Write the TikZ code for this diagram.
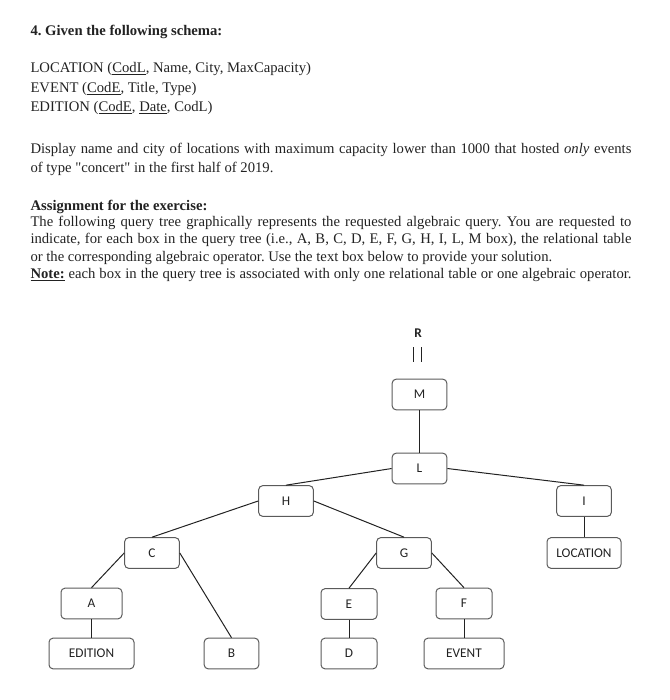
\documentclass[tikz,border=0pt]{standalone}
\usepackage{fontspec}
\setmainfont{Liberation Serif}
\newfontfamily\boxfont{Carlito}
\definecolor{inkgray}{RGB}{34,34,34}
\definecolor{boxgray}{RGB}{90,90,90}
\newcommand{\jline}[1]{\makebox[450.75pt][s]{#1}}
\frenchspacing

\tikzset{every picture/.style={line width=0.75pt}}
\tikzset{
  qbox/.style={draw=boxgray, rounded corners=3pt, minimum width=41pt, minimum height=23pt,
    inner sep=0.75pt, font=\boxfont\fontsize{10}{12}\selectfont, text=inkgray},
  txt/.style={anchor=base west, inner sep=0pt, text=inkgray, font=\fontsize{11}{13}\selectfont},
  link/.style={draw=inkgray}
}

\begin{document}
\begin{tikzpicture}[x=0.75pt,y=0.75pt,yscale=-1,xscale=1]
\useasboundingbox (0,0) rectangle (670,700);

% Text Node
\node [txt] (head) at (30,35) {\textbf{4. Given the following schema:}};
% Text Node
\node [txt] (sch1) at (30,72) {LOCATION (\underline{CodL}, Name, City, MaxCapacity)};
% Text Node
\node [txt] (sch2) at (30,92) {EVENT (\underline{CodE}, Title, Type)};
% Text Node
\node [txt] (sch3) at (30,111.5) {EDITION (\underline{CodE}, \underline{Date}, CodL)};
% Text Node
\node [txt] (req1) at (30,153) {\jline{Display name and city of locations with maximum capacity lower than 1000 that hosted \textit{only} events}};
% Text Node
\node [txt] (req2) at (30,172) {of type \textquotedbl concert\textquotedbl{} in the first half of 2019.};
% Text Node
\node [txt] (asg) at (30,210) {\textbf{Assignment for the exercise:}};
% Text Node
\node [txt] (asg1) at (30,226) {\jline{The following query tree graphically represents the requested algebraic query. You are requested to}};
% Text Node
\node [txt] (asg2) at (30,243.5) {\jline{indicate, for each box in the query tree (i.e., A, B, C, D, E, F, G, H, I, L, M box), the relational table}};
% Text Node
\node [txt] (asg3) at (30,261) {or the corresponding algebraic operator. Use the text box below to provide your solution.};
% Text Node
\node [txt] (asg4) at (30,278.5) {\jline{\textbf{\underline{Note:}} each box in the query tree is associated with only one relational table or one algebraic operator.}};

% Result
\node [inner sep=0.75pt, text=inkgray, font=\boxfont\bfseries\fontsize{10}{12}\selectfont] (R) at (418,333) {R};
\coordinate (eq) at (417,354.5);
\draw [link] ([xshift=-3pt,yshift=5.5pt]eq) -- ([xshift=-3pt,yshift=-5.5pt]eq);
\draw [link] ([xshift=3pt,yshift=5.5pt]eq) -- ([xshift=3pt,yshift=-5.5pt]eq);

% Boxes
\node [qbox] (M) at (419.5,394.5) {M};
\node [qbox] (L) at (419.5,468.5) {L};
\node [qbox] (H) at (286,501) {H};
\node [qbox] (I) at (584,501) {I};
\node [qbox] (C) at (152,553) {C};
\node [qbox] (G) at (404,553) {G};
\node [qbox, minimum width=55.5pt] (LOC) at (584,553) {LOCATION};
\node [qbox, minimum width=45.75pt] (A) at (91.5,603.5) {A};
\node [qbox, minimum width=42pt] (E) at (349,604) {E};
\node [qbox, minimum width=42pt] (F) at (464,603.5) {F};
\node [qbox, minimum width=63.75pt] (EDI) at (91.5,653.5) {EDITION};
\node [qbox] (B) at (231.5,653.5) {B};
\node [qbox, minimum width=42pt] (D) at (349,653.5) {D};
\node [qbox, minimum width=60pt] (EVT) at (464,653.5) {EVENT};

% Edges
\draw [link] (M.south) -- (L.north);
\draw [link] (L.west) -- (H.north);
\draw [link] (L.east) -- (I.north);
\draw [link] (H.west) -- (C.north);
\draw [link] (H.east) -- (G.north);
\draw [link] (I.south) -- (LOC.north);
\draw [link] (C.west) -- (A.north);
\draw [link] (C.east) -- (B.north);
\draw [link] (G.west) -- (E.north);
\draw [link] (G.east) -- (F.north);
\draw [link] (A.south) -- (EDI.north);
\draw [link] (E.south) -- (D.north);
\draw [link] (F.south) -- (EVT.north);

\end{tikzpicture}
\end{document}
